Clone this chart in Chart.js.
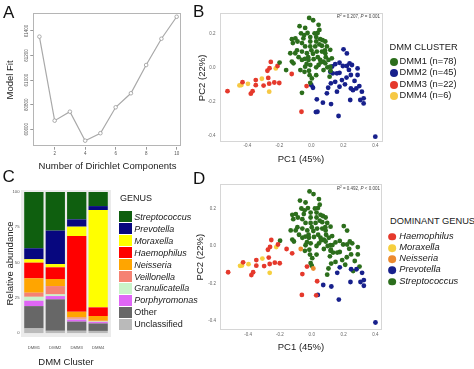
<!DOCTYPE html>
<html>
<head>
<meta charset="utf-8">
<script src="https://cdn.jsdelivr.net/npm/chart.js@4.4.1/dist/chart.umd.min.js"></script>
<style>
html,body{margin:0;padding:0;background:#fff;}
body{width:474px;height:369px;position:relative;overflow:hidden;font-family:"Liberation Sans",Arial,Helvetica,sans-serif;color:#1a1a1a;}
canvas{position:absolute;}
.t{position:absolute;white-space:nowrap;line-height:1;transform:translateY(-50%);}
.lt{position:absolute;line-height:1;font-size:17px;color:#111;}
.dot{position:absolute;border-radius:50%;transform:translate(-50%,-50%);}
.sw{position:absolute;}
sup{font-size:70%;vertical-align:top;position:relative;top:-0.2em;}
</style>
</head>
<body>
<canvas id="cA" width="190" height="175" style="left:0;top:0"></canvas>
<canvas id="cB" width="200" height="170" style="left:190px;top:0"></canvas>
<canvas id="cC" width="118" height="199" style="left:0;top:170px"></canvas>
<canvas id="cD" width="200" height="199" style="left:190px;top:170px"></canvas>
<div class="lt" style="left:3px;top:3.8px">A</div>
<div class="lt" style="left:193px;top:2.8px">B</div>
<div class="lt" style="left:2.5px;top:167.8px">C</div>
<div class="lt" style="left:193px;top:169.5px">D</div>
<div class="t" style="right:94px;top:16.7px;font-size:4.5px;color:#444"><i>R</i><sup>2</sup> = 0.207, <i>P</i> = 0.001</div>
<div class="t" style="right:94px;top:189px;font-size:4.5px;color:#444"><i>R</i><sup>2</sup> = 0.492, <i>P</i> &lt; 0.001</div>
<div id="leg"></div>
<script>
// ---------------- Panel A ----------------
const aComponents = [1, 2, 3, 4, 5, 6, 7, 8, 9, 10];
const aModelFit = [61354, 60670, 60743, 60507, 60568, 60779, 60893, 61123, 61337, 61516];
const aXTicks = [2, 4, 6, 8, 10];
const aYTicks = [60600, 60800, 61000, 61200, 61400];

// ---------------- Panels B & D (same PCoA points) ----------------
const pc1 = [
  // DMM3
  -0.525,-0.431,-0.379,-0.368,-0.348,-0.348,-0.299,-0.270,-0.264,-0.254,-0.275,-0.262,-0.232,-0.201,-0.212,-0.123,-0.030,-0.062,
  // DMM4
  -0.450,-0.438,-0.397,-0.310,-0.264,-0.223,
  // DMM1
  -0.014,0.011,-0.074,-0.039,-0.024,0.039,-0.122,-0.116,-0.087,-0.059,
  -0.007,0.030,0.055,0.087,0.030,-0.007,-0.039,-0.007,0.024,0.066,
  0.097,-0.132,-0.101,-0.059,-0.028,0.034,0.066,0.087,0.118,-0.122,
  -0.112,-0.059,-0.018,0.014,0.055,0.076,0.107,0.128,-0.199,-0.158,
  -0.069,-0.039,-0.007,0.045,0.087,0.118,-0.043,-0.011,0.030,0.076,
  0.114,0.003,-0.007,-0.059,-0.020,0.000,0.040,0.050,0.020,0.050,
  -0.050,-0.090,-0.030,0.090,0.100,0.010,-0.080,0.060,0.120,-0.100,
  0.070,-0.040,0.030,-0.015,0.085,-0.065,0.045,-0.045,
  // DMM2
  0.201,0.222,0.149,0.176,0.197,0.222,0.239,0.254,0.289,0.118,
  0.134,0.176,0.247,0.289,0.149,0.191,0.176,0.247,0.260,0.281,
  0.160,0.316,0.097,0.243,0.306,0.327,0.327,0.072,0.123,0.170,
  0.400,0.000,0.010,0.034,0.038,0.028,0.160,0.122,0.270,0.220,
  0.300,0.130,0.105,0.210,0.235
];
const pc2 = [
  -0.140,-0.087,-0.155,-0.140,-0.075,-0.105,-0.107,-0.062,-0.096,0.032,-0.020,-0.005,-0.089,-0.092,0.008,-0.039,-0.110,-0.261,
  -0.106,-0.104,-0.097,-0.067,-0.143,-0.006,
  0.291,0.277,0.242,0.232,0.202,0.202,0.166,0.143,0.152,0.143,
  0.178,0.178,0.166,0.152,0.152,0.152,0.123,0.123,0.123,0.127,
  0.123,0.083,0.083,0.093,0.083,0.093,0.093,0.083,0.103,0.034,
  0.024,0.044,0.044,0.048,0.044,0.034,0.044,0.053,0.028,-0.016,
  -0.016,0.004,0.014,0.014,0.024,0.004,-0.026,-0.046,-0.046,-0.016,
  -0.055,-0.065,-0.091,-0.150,0.060,0.100,0.060,0.135,0.200,0.220,
  0.170,0.100,0.020,0.060,0.000,0.080,0.060,0.030,-0.020,0.170,
  0.160,0.050,0.000,-0.020,0.100,0.200,0.250,0.190,
  0.106,0.082,0.019,0.027,0.008,0.008,0.024,0.014,-0.006,-0.026,
  -0.035,-0.032,-0.045,-0.045,-0.085,-0.075,-0.114,-0.124,-0.134,-0.124,
  -0.143,-0.143,-0.153,-0.192,-0.192,-0.182,-0.212,-0.208,-0.216,-0.286,
  -0.408,-0.105,-0.120,-0.188,-0.261,-0.263,-0.035,-0.094,-0.080,-0.060,
  -0.110,0.005,-0.120,-0.100,-0.015
];
// DMM cluster of each point (1..4)
const dmmCluster = [].concat(
  Array(18).fill(3), Array(6).fill(4), Array(78).fill(1), Array(45).fill(2)
);
// dominant genus of each point: 0 Haemophilus, 1 Moraxella, 2 Neisseria, 3 Prevotella, 4 Streptococcus
const domGenus = [
  0,0,0,0,0,0,0,0,0,0,0,0,0,0,0,0,0,0,
  1,1,1,1,1,1,
  4,4,4,4,4,4,4,4,4,4, 4,4,4,4,4,4,4,4,4,4, 4,4,4,4,4,4,4,4,4,4, 4,4,4,4,4,4,4,4,4,0,
  2,4,4,4,4,4,4,4,4,4, 4,4,4,0,4,4,4,4,4,4, 4,4,4,4,4,4,4,4,4,4, 4,4,4,4,4,4,4,4,
  4,4,4,4,4,4,4,4,4,4, 4,4,4,4,4,4,3,3,4,3, 3,3,4,3,3,3,3,3,3,3, 3,4,2,0,3,0,4,4,4,4, 4,4,4,4,4
];
const dmmLabels = ['DMM1 (n=78)', 'DMM2 (n=45)', 'DMM3 (n=22)', 'DMM4 (n=6)'];
const domGenusLabels = ['Haemophilus', 'Moraxella', 'Neisseria', 'Prevotella', 'Streptococcus'];
const pcXTicks = [-0.4, -0.2, 0, 0.2, 0.4];
const pcYTicks = [-0.4, -0.2, 0, 0.2];

// ---------------- Panel C ----------------
const cClusters = ['DMM1', 'DMM2', 'DMM3', 'DMM4'];
const cGenera = ['Streptococcus', 'Prevotella', 'Moraxella', 'Haemophilus', 'Neisseria',
                 'Veillonella', 'Granulicatella', 'Porphyromonas', 'Other', 'Unclassified'];
const cStreptococcus  = [39.9, 27.4, 19.4, 10.0];
const cPrevotella     = [7.8, 23.7, 5.2, 2.8];
const cMoraxella      = [2.4, 2.3, 6.6, 69.0];
const cHaemophilus    = [11.1, 8.3, 53.7, 6.1];
const cNeisseria      = [10.2, 5.0, 4.0, 3.4];
const cVeillonella    = [2.9, 5.9, 1.0, 0.5];
const cGranulicatella = [2.8, 1.2, 0.5, 0.4];
const cPorphyromonas  = [3.8, 2.3, 1.5, 1.0];
const cOther          = [15.8, 22.3, 6.5, 5.3];
const cUnclassified   = [3.3, 1.6, 1.6, 1.5];
const cYTicks = [0, 25, 50, 75, 100];

// ---------------- styling ----------------
Chart.defaults.font.family = '"Liberation Sans", Arial, sans-serif';
const FONT = '"Liberation Sans", Arial, sans-serif';
const clusterColors = ['#2c6e1c', '#17208c', '#e5392c', '#f6c844'];
const genusColorsD = ['#e5392c', '#f6cf3e', '#ec8a2f', '#17208c', '#2c6e1c'];
const genusColorsC = {
  Streptococcus: '#0f5f0f', Prevotella: '#07077f', Moraxella: '#ffff00', Haemophilus: '#ff0000',
  Neisseria: '#ffa500', Veillonella: '#f58273', Granulicatella: '#c9f3c9', Porphyromonas: '#df66f5',
  Other: '#676767', Unclassified: '#bababa'
};
const cSeries = {
  Streptococcus: cStreptococcus, Prevotella: cPrevotella, Moraxella: cMoraxella, Haemophilus: cHaemophilus,
  Neisseria: cNeisseria, Veillonella: cVeillonella, Granulicatella: cGranulicatella,
  Porphyromonas: cPorphyromonas, Other: cOther, Unclassified: cUnclassified
};

function boxPlugin(color) {
  return { id: 'box', afterDraw(chart) {
    const a = chart.chartArea, ctx = chart.ctx;
    ctx.save(); ctx.strokeStyle = color; ctx.lineWidth = 1;
    ctx.strokeRect(Math.round(a.left) + 0.5, Math.round(a.top) + 0.5,
                   Math.round(a.right - a.left) - 1, Math.round(a.bottom - a.top) - 1);
    ctx.restore();
  }};
}
const bgPlugin = { id: 'bg', beforeDraw(chart) {
  const a = chart.chartArea, ctx = chart.ctx;
  ctx.save(); ctx.fillStyle = '#ebebeb'; ctx.fillRect(a.left, a.top, a.right - a.left, a.bottom - a.top); ctx.restore();
}};
const base = { responsive: false, animation: false, devicePixelRatio: 1,
  plugins: { legend: { display: false }, tooltip: { enabled: false } } };
const titleFont = { size: 9.5, family: FONT };
const tickFont = { size: 4.5, family: FONT };

// ---------- A ----------
new Chart(document.getElementById('cA'), {
  type: 'line',
  data: { datasets: [{
    data: aComponents.map((c, i) => ({ x: c, y: aModelFit[i] })),
    borderColor: '#a9a9a9', borderWidth: 1.2, tension: 0,
    pointRadius: 1.8, pointBackgroundColor: '#ffffff', pointBorderColor: '#999999', pointBorderWidth: 0.8
  }]},
  options: Object.assign({}, base, {
    layout: { padding: { top: 13.3, right: 8.3, left: 0, bottom: 0 } },
    scales: {
      x: { type: 'linear', min: 0.6, max: 10.33,
        afterBuildTicks: s => { s.ticks = aXTicks.map(v => ({ value: v })); },
        afterFit: s => { s.height = 28.3; },
        grid: { display: true, drawOnChartArea: false, drawTicks: true, tickLength: 3, color: '#999' },
        border: { display: false },
        ticks: { font: tickFont, color: '#555', padding: 1.6, maxRotation: 0, autoSkip: false, callback: v => String(v) },
        title: { display: true, text: 'Number of Dirichlet Components', font: titleFont, color: '#222', padding: { top: 0, bottom: 3.3 } } },
      y: { type: 'linear', min: 60458, max: 61544,
        afterBuildTicks: s => { s.ticks = aYTicks.map(v => ({ value: v })); },
        afterFit: s => { s.width = 33.3; },
        grid: { display: true, drawOnChartArea: false, drawTicks: true, tickLength: 3, color: '#999' },
        border: { display: false },
        ticks: { font: tickFont, color: '#555', padding: -3, minRotation: 90, maxRotation: 90, crossAlign: 'center', autoSkip: false, callback: v => String(v) },
        title: { display: true, text: 'Model Fit', font: titleFont, color: '#222', padding: { top: 4.3, bottom: 0 } } }
    }
  }),
  plugins: [boxPlugin('#b5b5b5')]
});

// ---------- B & D ----------
const allIdx = pc1.map((_, i) => i);
function pts(test) { return allIdx.filter(test).map(i => ({ x: pc1[i], y: pc2[i] })); }

function pcChart(id, datasets, g) {
  return new Chart(document.getElementById(id), {
    type: 'scatter',
    data: { datasets },
    options: Object.assign({}, base, {
      layout: { padding: { top: g.top, right: g.right, left: 0, bottom: 0 } },
      scales: {
        x: { type: 'linear', min: g.xmin, max: g.xmax,
          afterBuildTicks: s => { s.ticks = pcXTicks.map(v => ({ value: v })); },
          afterFit: s => { s.height = g.xh; },
          grid: { display: false, drawTicks: false }, border: { display: false },
          ticks: { font: tickFont, color: '#666', padding: g.xpad, maxRotation: 0, autoSkip: false, callback: v => v.toFixed(1) },
          title: { display: true, text: 'PC1 (45%)', font: titleFont, color: '#222', padding: { top: 0, bottom: g.xtpad } } },
        y: { type: 'linear', min: g.ymin, max: g.ymax,
          afterBuildTicks: s => { s.ticks = pcYTicks.map(v => ({ value: v })); },
          afterFit: s => { s.width = g.yw; },
          grid: { display: false, drawTicks: false }, border: { display: false },
          ticks: { font: tickFont, color: '#666', padding: 4, autoSkip: false, callback: v => v.toFixed(1) },
          title: { display: true, text: 'PC2 (22%)', font: titleFont, color: '#222', padding: { top: g.ytpad, bottom: 0 } } }
      }
    }),
    plugins: [boxPlugin('#d6d6d6')]
  });
}
const ptStyle = { pointRadius: 2.4, pointBorderWidth: 0, pointHoverRadius: 2.4 };
pcChart('cB', [1, 2, 3, 4].map(c => Object.assign({
  label: dmmLabels[c - 1], data: pts(i => dmmCluster[i] === c),
  backgroundColor: clusterColors[c - 1], borderColor: clusterColors[c - 1] }, ptStyle)),
  { top: 13.3, right: 7.5, xmin: -0.575, xmax: 0.445, ymin: -0.442, ymax: 0.318, xh: 27.5, yw: 29.5, xpad: 0.5, xtpad: 5, ytpad: 6.3 });
pcChart('cD', [0, 1, 2, 3, 4].map(gi => Object.assign({
  label: domGenusLabels[gi], data: pts(i => domGenus[i] === gi),
  backgroundColor: genusColorsD[gi], borderColor: genusColorsD[gi] }, ptStyle)),
  { top: 14.3, right: 8, xmin: -0.576, xmax: 0.441, ymin: -0.448, ymax: 0.329, xh: 39, yw: 30, xpad: 2.3, xtpad: 15.6, ytpad: 4.8 });

// ---------- C ----------
const stackOrder = cGenera.slice().reverse(); // bottom -> top
new Chart(document.getElementById('cC'), {
  type: 'bar',
  data: { datasets: stackOrder.map(g => ({
    label: g, data: cClusters.map((c, i) => ({ x: i + 1, y: cSeries[g][i] })),
    backgroundColor: genusColorsC[g], borderWidth: 0,
    categoryPercentage: 1, barPercentage: 0.9
  }))},
  options: Object.assign({}, base, {
    layout: { padding: { top: 20, right: 7, left: 0, bottom: 0 } },
    scales: {
      x: { type: 'linear', stacked: true, offset: false, min: 0.4, max: 4.6,
        afterBuildTicks: s => { s.ticks = cClusters.map((c, i) => ({ value: i + 1 })); },
        afterFit: s => { s.height = 32; },
        grid: { display: false, drawTicks: false }, border: { display: false },
        ticks: { font: { size: 4.2, family: FONT }, color: '#555', padding: 8.2, maxRotation: 0, autoSkip: false,
                 callback: v => cClusters[Math.round(v) - 1] },
        title: { display: true, text: 'DMM Cluster', font: titleFont, color: '#222', padding: { top: 0, bottom: 0.6 } } },
      y: { type: 'linear', stacked: true, min: -2.8, max: 101.4,
        afterBuildTicks: s => { s.ticks = cYTicks.map(v => ({ value: v })); },
        afterFit: s => { s.width = 21; },
        grid: { display: false, drawTicks: false }, border: { display: false },
        ticks: { font: { size: 4.2, family: FONT }, color: '#555', padding: 1.5, autoSkip: false, callback: v => String(v) },
        title: { display: true, text: 'Relative abundance', font: titleFont, color: '#222', padding: { top: 4.3, bottom: 0 } } }
    }
  }),
  plugins: [bgPlugin]
});

// ---------- legends (HTML text) ----------
const leg = document.getElementById('leg');
function addText(html, left, cy, size, italic) {
  const d = document.createElement('div'); d.className = 't';
  d.style.left = left + 'px'; d.style.top = cy + 'px'; d.style.fontSize = size + 'px';
  if (italic) d.style.fontStyle = 'italic';
  d.textContent = html; leg.appendChild(d);
}
function addDot(cx, cy, dia, color) {
  const d = document.createElement('div'); d.className = 'dot';
  Object.assign(d.style, { left: cx + 'px', top: cy + 'px', width: dia + 'px', height: dia + 'px', background: color });
  leg.appendChild(d);
}
function addSwatch(l, t, w, h, color) {
  const d = document.createElement('div'); d.className = 'sw';
  Object.assign(d.style, { left: l + 'px', top: t + 'px', width: w + 'px', height: h + 'px', background: color });
  leg.appendChild(d);
}
// B legend
addText('DMM CLUSTER', 389.5, 47.7, 9.3, false);
dmmLabels.forEach((lab, i) => {
  const y = 62 + i * 11.33;
  addDot(394.2, y, 8, clusterColors[i]);
  addText(lab, 399.5, y, 9.3, false);
});
// D legend
addText('DOMINANT GENUS', 390, 221.7, 9.3, false);
domGenusLabels.forEach((lab, i) => {
  const y = 236.7 + i * 11.25;
  addDot(392.2, y, 7.7, genusColorsD[i]);
  addText(lab, 399.3, y, 9.3, true);
});
// C legend
addText('GENUS', 120, 198.3, 9, false);
cGenera.forEach((g, i) => {
  const y = 216.7 + i * 11.96;
  addSwatch(119.3, y - 5.6, 12.4, 11.2, genusColorsC[g]);
  addText(g, 134.3, y, 9, !(g === 'Other' || g === 'Unclassified'));
});
</script>
</body>
</html>
